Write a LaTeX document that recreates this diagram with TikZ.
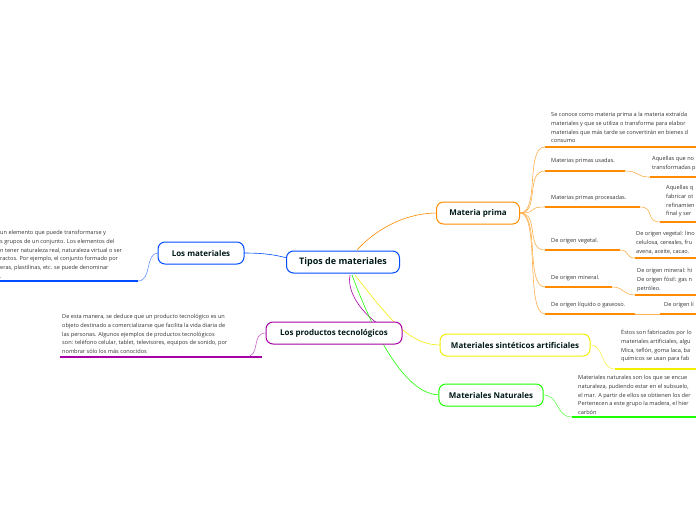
\documentclass[tikz,border=0pt]{standalone}
\usepackage{fontspec}
\setmainfont{Open Sans}
\begin{document}
\begin{tikzpicture}[x=1pt,y=-1pt,
 box/.style={draw=#1,line width=1pt,rounded corners=7pt,fill=white,font=\fontsize{8}{10}\selectfont\bfseries,text=black!80!teal,inner xsep=10pt,minimum height=22pt},
 txt/.style={font=\fontsize{5.6}{8.8}\selectfont,text=black!80,anchor=north west,align=left,inner sep=0pt},
 con/.style={draw=#1,line width=0.6pt},
 ul/.style={draw=#1,line width=1.4pt}]
\useasboundingbox (0,0) rectangle (696,520);
\clip (0,0) rectangle (696,520);
\colorlet{org}{orange!90!yellow}
\colorlet{blu}{blue!70!cyan}
\colorlet{pur}{violet!70!magenta}
\colorlet{yel}{yellow!80!lime}
\colorlet{grn}{green!85!lime}
% connectors from centre
\draw[con=org] (357,250) .. controls (380,225) and (410,213) .. (437,213);
\draw[con=blu] (300,262) .. controls (280,255) and (265,253) .. (244,253);
\draw[con=pur] (350,275) .. controls (345,300) and (380,333) .. (402,333);
\draw[con=yel] (355,275) .. controls (390,320) and (410,345) .. (440,345);
\draw[con=grn] (352,275) .. controls (380,350) and (410,395) .. (440,395);
\node[box=blu,minimum width=113pt] (c) at (343,262) {\fontsize{9}{11}\selectfont Tipos de materiales};
\node[box=org,minimum width=83pt] (mp) at (478,213) {Materia prima};
\node[box=blu,minimum width=86pt] (lm) at (201,253) {Los materiales};
\node[box=pur,minimum width=136pt] (pt) at (334,333) {Los productos tecnológicos};
\node[box=yel,minimum width=150pt] (ms) at (515,345) {Materiales sintéticos artificiales};
\node[box=grn,minimum width=103pt] (mn) at (491,395) {Materiales Naturales};
% Materia prima children
\foreach \y/\e in {147/696,171/625,207/640,250/620,287/612,314/635}{
  \draw[con=org!70] (520,213) .. controls (540,213) and (525,\y) .. (545,\y);
  \draw[ul=org] (545,\y) -- (\e,\y);}
\node[txt] (t0) at (551,112) {Se conoce como materia prima a la materia extraída\\materiales y que se utiliza o transforma para elabor\\materiales que más tarde se convertirán en bienes d\\consumo};
\node[txt] (t1) at (551,158) {Materias primas usadas.};
\node[txt] (t2) at (551,195) {Materias primas procesadas.};
\node[txt] (t3) at (551,238) {De origen vegetal.};
\node[txt] (t4) at (551,275) {De origen mineral.};
\node[txt] (t5) at (551,302) {De origen líquido o gaseoso.};
\draw[con=org!70] (625,171) .. controls (640,171) and (635,177) .. (650,177); \draw[ul=org] (650,177) -- (696,177);
\node[txt] at (652,156) {Aquellas que no\\transformadas p};
\draw[con=org!70] (640,207) .. controls (655,207) and (645,222) .. (660,222); \draw[ul=org] (660,222) -- (696,222);
\node[txt] at (666,185) {Aquellas q\\fabricar ot\\refinamien\\final y ser};
\draw[con=org!70] (620,250) .. controls (630,250) and (625,258) .. (635,258); \draw[ul=org] (635,258) -- (696,258);
\node[txt] at (636,231) {De origen vegetal: lino\\celulosa, cereales, fru\\avena, aceite, cacao.};
\draw[con=org!70] (612,287) .. controls (625,287) and (622,295) .. (635,295); \draw[ul=org] (635,295) -- (696,295);
\node[txt] at (637,268) {De origen mineral: hi\\De origen fósil: gas n\\petróleo.};
\draw[con=org!70] (635,314) -- (660,314); \draw[ul=org] (660,314) -- (696,314);
\node[txt] at (664,302) {De origen lí};
% sinteticos
\draw[con=yel!70] (590,345) .. controls (605,345) and (600,369) .. (615,369); \draw[ul=yel] (615,369) -- (696,369);
\node[txt] at (621,329) {Éstos son fabricados por lo\\materiales artificiales, algu\\Mica, teflón, goma laca, ba\\químicos se usan para fab};
% naturales
\draw[con=grn!70] (543,395) .. controls (560,395) and (555,417) .. (572,417); \draw[ul=grn] (572,417) -- (696,417);
\node[txt] at (578,375) {Materiales naturales son los que se encue\\naturaleza, pudiendo estar en el subsuelo,\\el mar. A partir de ellos se obtienen los der\\Pertenecen a este grupo la madera, el hier\\carbón};
% los materiales
\draw[con=blu!60] (158,253) .. controls (145,253) and (152,281) .. (138,281); \draw[ul=blu] (0,281) -- (138,281);
\node[txt] at (0,230) {un elemento que puede transformarse y\\s grupos de un conjunto. Los elementos del\\n tener naturaleza real, naturaleza virtual o ser\\ractos. Por ejemplo, el conjunto formado por\\eras, plastilinas, etc. se puede denominar\\.};
% productos
\draw[con=pur!60] (266,333) .. controls (250,333) and (262,357) .. (245,357); \draw[ul=pur] (60,357) -- (262,357);
\node[txt] at (62,314) {De esta manera, se deduce que un producto tecnológico es un\\objeto destinado a comercializarse que facilita la vida diaria de\\las personas. Algunos ejemplos de productos tecnológicos\\son: teléfono celular, tablet, televisores, equipos de sonido, por\\nombrar sólo los más conocidos};
\end{tikzpicture}
\end{document}
